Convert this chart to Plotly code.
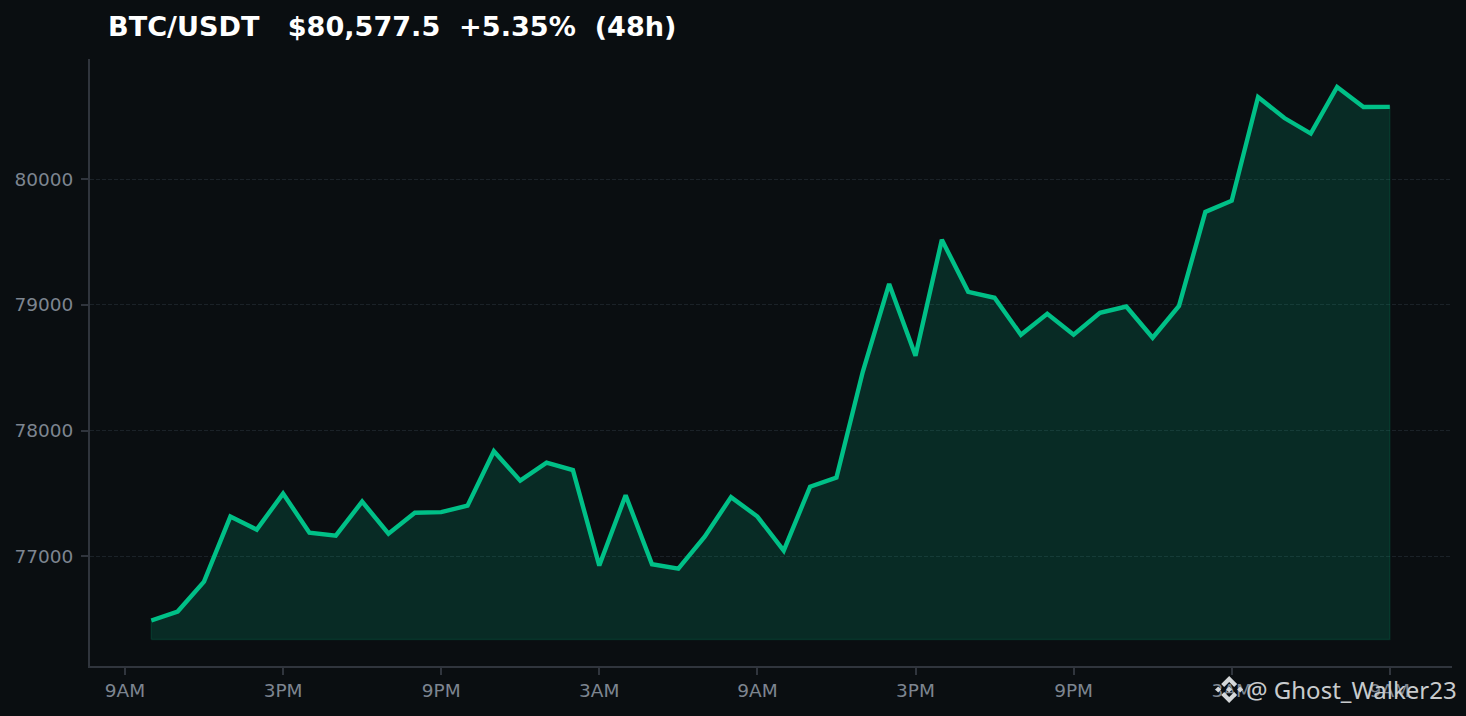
import plotly.graph_objects as go

hours = list(range(1, 49))
price = [76487, 76559, 76797, 77315, 77211, 77498, 77187, 77163, 77434, 77179, 77346, 77350,
         77402, 77835, 77601, 77744, 77685, 76925, 77485, 76935, 76901, 77155, 77470, 77315,
         77044, 77553, 77625, 78468, 79168, 78596, 79519, 79105, 79057, 78763, 78930, 78763,
         78938, 78988, 78739, 78993, 79741, 79830, 80656, 80489, 80365, 80736, 80577, 80577.5]
base_value = 76336
x_ticks = [0, 6, 12, 18, 24, 30, 36, 42, 48]
x_labels = ["9AM", "3PM", "9PM", "3AM", "9AM", "3PM", "9PM", "3AM", "9AM"]
y_ticks = [77000, 78000, 79000, 80000]
title_text = "BTC/USDT\u00a0\u00a0\u00a0$80,577.5\u00a0\u00a0+5.35%\u00a0\u00a0(48h)"
watermark = "@ Ghost_Walker23"

BG = "#0a0e11"
GREEN = "#00c087"
AXIS = "#30353d"
TICKTXT = "#7d8590"
W, H = 1466, 716
L, R, T, B = 89.5, 13.5, 59, 49.5
PW, PH = W - L - R, H - T - B


def px(x):
    return (x - L) / PW


def py(y):
    return (H - B - y) / PH


def logo_path(points, cx=1229.5, cy=690):
    return "M " + " L ".join(f"{px(cx + a):.5f},{py(cy + b):.5f}" for a, b in points) + " Z"


logo_parts = [
    [(0, -13.5), (8, -5.5), (5, -2.5), (0, -7.5), (-5, -2.5), (-8, -5.5)],
    [(0, 13.5), (8, 5.5), (5, 2.5), (0, 7.5), (-5, 2.5), (-8, 5.5)],
    [(0, -3), (3, 0), (0, 3), (-3, 0)],
    [(-11, -3), (-8, 0), (-11, 3), (-14, 0)],
    [(11, -3), (14, 0), (11, 3), (8, 0)],
]

fig = go.Figure()
fig.add_trace(go.Scatter(
    x=[hours[0]] + hours + [hours[-1], hours[0]],
    y=[base_value] + price + [base_value, base_value],
    mode="lines", fill="toself", fillcolor="rgba(0,192,135,0.17)",
    line=dict(color="rgba(0,192,135,0.14)", width=1.5), hoverinfo="skip", showlegend=False))
fig.add_trace(go.Scatter(x=hours, y=price, mode="lines",
                         line=dict(color=GREEN, width=4.4, shape="linear"), showlegend=False))

fig.update_layout(
    width=W, height=H,
    margin=dict(l=L, r=R, t=T, b=B, pad=0),
    paper_bgcolor=BG, plot_bgcolor=BG,
    font=dict(family="DejaVu Sans", color=TICKTXT, size=18),
    xaxis=dict(range=[-1.327, 50.36], tickmode="array", tickvals=x_ticks, ticktext=x_labels,
               showgrid=False, zeroline=False, showline=True, linecolor=AXIS, linewidth=2,
               ticks="outside", ticklen=7, tickcolor=AXIS, tickwidth=2,
               tickfont=dict(family="DejaVu Sans", size=18.5, color=TICKTXT)),
    yaxis=dict(range=[76125, 80959], tickmode="array", tickvals=y_ticks,
               ticktext=[str(v) for v in y_ticks],
               showgrid=True, gridcolor="#1b2228", griddash="4px,2px", gridwidth=1,
               zeroline=False, showline=True, linecolor=AXIS, linewidth=2,
               ticks="outside", ticklen=7, tickcolor=AXIS, tickwidth=2, ticklabelstandoff=4,
               tickfont=dict(family="DejaVu Sans", size=18.5, color=TICKTXT)),
    annotations=[
        dict(text=title_text, xref="paper", yref="paper", x=px(106), y=py(26),
             xanchor="left", yanchor="middle", showarrow=False,
             font=dict(family="DejaVu Sans", size=27.1, color="#ffffff", weight="bold")),
        dict(text=watermark, xref="paper", yref="paper", x=px(1460), y=py(690),
             xanchor="right", yanchor="middle", showarrow=False,
             font=dict(family="Noto Sans", size=24, color="#c8cbcd")),
    ],
    shapes=[dict(type="path", xref="paper", yref="paper", path=logo_path(p), layer="above",
                 fillcolor="#d5d8da", line=dict(width=0)) for p in logo_parts],
)
fig.write_html("out.html", post_script="document.body.style.margin='0';",
               config=dict(displayModeBar=False))
